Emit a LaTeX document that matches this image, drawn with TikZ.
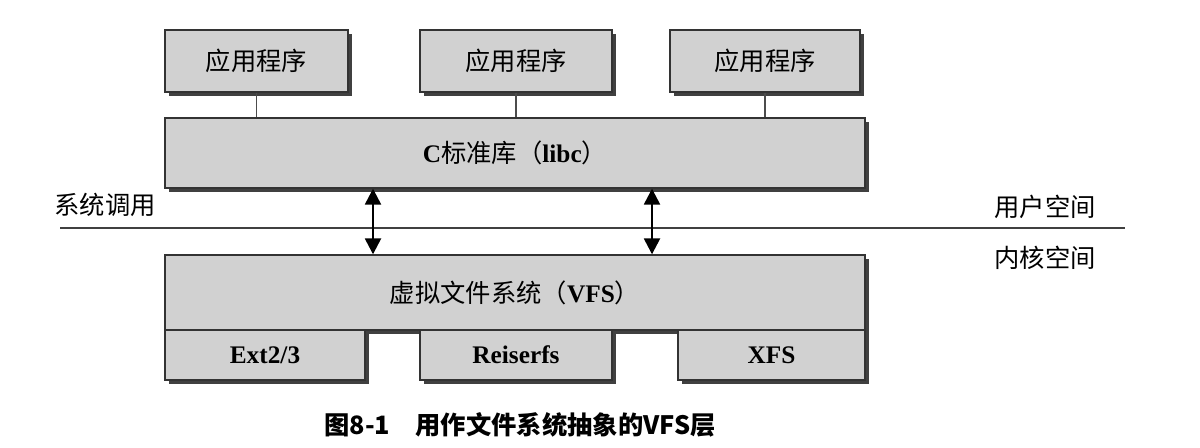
\documentclass[tikz,border=0pt]{standalone}
\usepackage{fontspec}
\setmainfont{Liberation Serif}
\newfontfamily\cjk{Noto Sans CJK SC}
\usetikzlibrary{arrows.meta,positioning,shadows}

\begin{document}
\begin{tikzpicture}[
  layer/.style={rectangle, draw=black!80, fill=black!18, line width=0.8pt, align=center,
    font=\Large\cjk, inner sep=0pt,
    drop shadow={shadow xshift=2pt, shadow yshift=-2pt, fill=black!75, opacity=1}},
  app/.style={layer, minimum height=1.24cm},
  fsbox/.style={layer, minimum height=1cm, font=\Large\bfseries},
  link/.style={draw=black!70, line width=0.6pt},
  arr/.style={{Triangle[length=9pt,width=9pt]}-{Triangle[length=9pt,width=9pt]}, line width=1.4pt},
  side/.style={font=\Large\cjk}
]
\useasboundingbox (0,0) rectangle (24,-8.94);

% Applications
\node[app, minimum width=3.66cm] (app1) at (5.13,-1.22) {应用程序};
\node[app, minimum width=3.84cm] (app2) at (10.32,-1.22) {应用程序};
\node[app, minimum width=3.8cm] (app3) at (15.3,-1.22) {应用程序};

% C library
\node[layer, minimum width=14cm, minimum height=1.4cm] (libc) at (10.3,-3.06)
  {{\rmfamily\bfseries C}标准库（{\rmfamily\bfseries libc}）};
\foreach \a in {app1,app2,app3}
  \draw[link] (\a.south) -- (\a.south |- libc.north);

% User/kernel boundary
\coordinate (lineL) at (1.2,-4.56);
\coordinate (lineR) at (22.5,-4.56);
\draw[line width=0.8pt, black!75] (lineL) -- (lineR);
\node[side] (syscall) at (2.1,-4.1) {系统调用};
\node[side] (user) at (20.9,-4.14) {用户空间};
\node[side] (kernel) at (20.9,-5.16) {内核空间};

% VFS
\node[layer, minimum width=14cm, minimum height=1.5cm] (vfs) at (10.3,-5.85)
  {虚拟文件系统（{\rmfamily\bfseries VFS}）};
\coordinate (callA) at (7.46,0);
\coordinate (callB) at (13.04,0);
\draw[arr] (callA |- libc.south) -- (callA |- vfs.north);
\draw[arr] (callB |- libc.south) -- (callB |- vfs.north);

% File systems
\node[fsbox, minimum width=4cm] (ext) at (5.3,-7.1) {Ext2/3};
\node[fsbox, minimum width=3.84cm] (reiser) at (10.32,-7.1) {Reiserfs};
\node[fsbox, minimum width=3.74cm] (xfs) at (15.43,-7.1) {XFS};

% Caption
\node[font=\Large\cjk\bfseries] (caption) at (10.4,-8.5) {图8-1\quad 用作文件系统抽象的VFS层};
\end{tikzpicture}
\end{document}
